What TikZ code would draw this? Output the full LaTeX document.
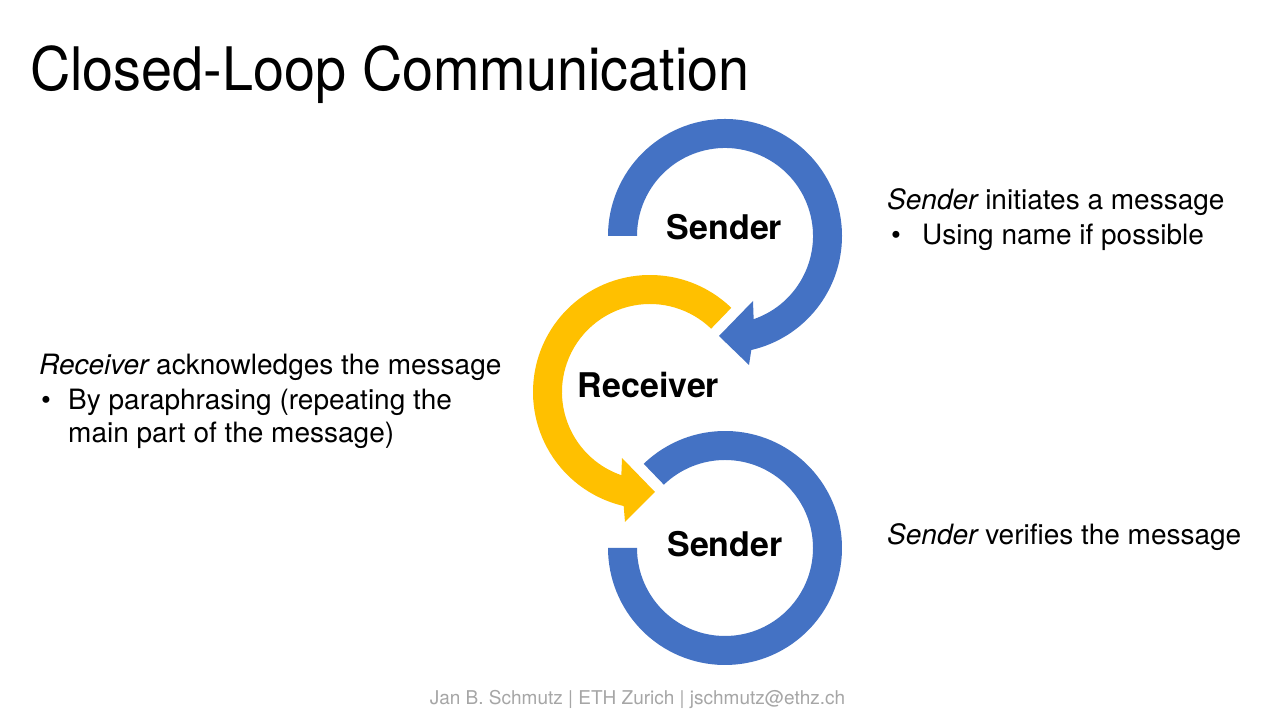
\documentclass[tikz,border=0pt]{standalone}
\usepackage{fontspec}
\setmainfont{TeX Gyre Heros}
\usetikzlibrary{calc}
\definecolor{ringblue}{HTML}{4472C4}
\definecolor{ringyellow}{HTML}{FFC000}
\definecolor{footgray}{HTML}{A6A6A6}
\begin{document}
\begin{tikzpicture}[x=1pt,y=1pt,
  ringlabel/.style={inner sep=0pt,anchor=base,font=\fontsize{34}{40}\selectfont\bfseries},
  bodytext/.style={inner sep=0pt,anchor=base west,font=\fontsize{28}{35}\selectfont}]
\useasboundingbox (0,0) rectangle (1278,719);
\fill[white] (0,0) rectangle (1278,719);
% centres
\coordinate (ctop) at (725,483);
\coordinate (cmid) at (650,327);
\coordinate (cbot) at (725,171);
% top blue arrow
\fill[ringblue] ($(ctop)+(180:117)$) arc[start angle=180,end angle=-77,radius=117pt]
  -- (749,354) -- (719,383) -- (753,418)
  -- ($(ctop)+(-71:88)$) arc[start angle=-71,end angle=180,radius=88pt] -- cycle;
% yellow arrow
\fill[ringyellow] ($(cmid)+(46:117)$) arc[start angle=46,end angle=257,radius=117pt]
  -- (625,197) -- (655,227) -- (622,261)
  -- ($(cmid)+(251:88)$) arc[start angle=251,end angle=46,radius=88pt] -- cycle;
% bottom blue ring
\fill[ringblue] ($(cbot)+(134:117)$) arc[start angle=134,end angle=-180,radius=117pt]
  -- ($(cbot)+(180:88)$) arc[start angle=-180,end angle=134,radius=88pt] -- cycle;
% ring labels
\node[ringlabel] (s1) at (724.5,479) {Sender};
\node[ringlabel] (r1) at (648.5,321) {Receiver};
\node[ringlabel] (s2) at (725,162) {Sender};
% title
\node[inner sep=0pt,anchor=base west] (title) at (30,628.3)
  {\scalebox{0.93}[1]{\fontsize{60}{70}\selectfont Closed-Loop Communication}};
% right texts
\node[bodytext] (t1) at (887,509) {\itshape Sender\upshape{} initiates a message};
\node[bodytext] (t1b) at (891,474) {•};
\node[bodytext] (t1c) at (922,474) {Using name if possible};
\node[bodytext] (t3) at (887,174) {\itshape Sender\upshape{} verifies the message};
% left texts
\node[bodytext] (t2) at (39,344) {\itshape Receiver\upshape{} acknowledges the message};
\node[bodytext] (t2b) at (41,309) {•};
\node[bodytext] (t2c) at (68,309) {By paraphrasing (repeating the};
\node[bodytext] (t2d) at (68,276) {main part of the message)};
% footer
\node[inner sep=0pt,anchor=base,text=footgray,font=\fontsize{19}{22}\selectfont] (foot) at (637.5,14)
  {Jan B. Schmutz | ETH Zurich | jschmutz@ethz.ch};
\end{tikzpicture}
\end{document}
